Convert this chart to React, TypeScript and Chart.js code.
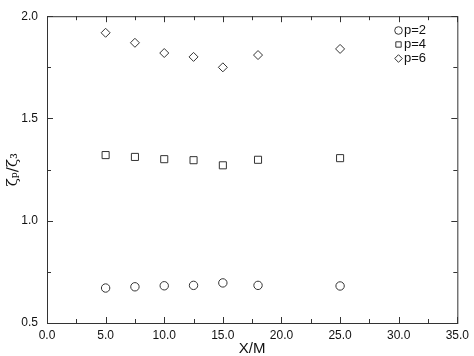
import React, { useEffect, useRef } from "react";
import { Chart, registerables } from "chart.js";

Chart.register(...registerables);

const xValues = [5, 7.5, 10, 12.5, 15, 18, 25];
const p2 = [0.671, 0.677, 0.682, 0.684, 0.696, 0.684, 0.681];
const p4 = [1.321, 1.312, 1.301, 1.296, 1.271, 1.298, 1.306];
const p6 = [1.919, 1.870, 1.820, 1.801, 1.750, 1.810, 1.840];
const seriesLabels = ["p=2", "p=4", "p=6"];
const xTickStep = 5;
const yTickStep = 0.5;

const INK = "#333";

function drawMarker(ctx: CanvasRenderingContext2D, style: string, x: number, y: number, r: number) {
  ctx.beginPath();
  if (style === "circle") {
    ctx.arc(x, y, r, 0, Math.PI * 2);
  } else if (style === "rect") {
    const s = r * Math.SQRT1_2;
    ctx.rect(x - s, y - s, 2 * s, 2 * s);
  } else {
    ctx.moveTo(x, y - r);
    ctx.lineTo(x + r, y);
    ctx.lineTo(x, y + r);
    ctx.lineTo(x - r, y);
    ctx.closePath();
  }
  ctx.stroke();
}

const framePlugin = {
  id: "frame",
  afterDraw(chart: any) {
    const { ctx, chartArea: a, scales } = chart;
    const xs = scales.x;
    const ys = scales.y;
    ctx.save();
    ctx.strokeStyle = INK;
    ctx.lineWidth = 1;
    ctx.strokeRect(a.left + 0.5, a.top + 0.5, a.right - a.left, a.bottom - a.top);
    for (let v = xs.min; v <= xs.max + 1e-9; v += xTickStep / 2) {
      const px = Math.round(xs.getPixelForValue(v)) + 0.5;
      const major = Math.abs(v / xTickStep - Math.round(v / xTickStep)) < 1e-6;
      const len = major ? 6 : 4;
      ctx.beginPath();
      ctx.moveTo(px, a.bottom);
      ctx.lineTo(px, a.bottom - len);
      ctx.moveTo(px, a.top);
      ctx.lineTo(px, a.top + len);
      ctx.stroke();
    }
    for (let v = ys.min; v <= ys.max + 1e-9; v += yTickStep / 2) {
      const py = Math.round(ys.getPixelForValue(v)) + 0.5;
      const major = Math.abs(v / yTickStep - Math.round(v / yTickStep)) < 1e-6;
      const len = major ? 6 : 4;
      ctx.beginPath();
      ctx.moveTo(a.left, py);
      ctx.lineTo(a.left + len, py);
      ctx.moveTo(a.right, py);
      ctx.lineTo(a.right - len, py);
      ctx.stroke();
    }
    const styles = ["circle", "rect", "rectRot"];
    ctx.font = "13px Arial, 'Liberation Sans', sans-serif";
    ctx.fillStyle = "#111";
    ctx.textBaseline = "middle";
    ctx.textAlign = "left";
    chart.data.datasets.forEach((ds: any, i: number) => {
      const y = 30.5 + i * 14;
      ctx.strokeStyle = INK;
      drawMarker(ctx, styles[i], 398.5, y, 3.8);
      ctx.fillText(ds.label, 404, y);
    });
    ctx.restore();
  },
};

export default function App() {
  const ref = useRef<HTMLCanvasElement>(null);
  useEffect(() => {
    document.body.style.margin = "0";
    const toPts = (arr: number[]) => arr.map((y, i) => ({ x: xValues[i], y }));
    const common = {
      showLine: false,
      borderColor: INK,
      backgroundColor: "rgba(0,0,0,0)",
      borderWidth: 1,
    };
    const chart = new Chart(ref.current as HTMLCanvasElement, {
      type: "scatter",
      data: {
        datasets: [
          { ...common, label: seriesLabels[0], data: toPts(p2), pointStyle: "circle", pointRadius: 4.2 },
          { ...common, label: seriesLabels[1], data: toPts(p4), pointStyle: "rect", pointRadius: 5 },
          { ...common, label: seriesLabels[2], data: toPts(p6), pointStyle: "rectRot", pointRadius: 4.5 },
        ],
      },
      options: {
        animation: false,
        responsive: false,
        layout: { padding: { top: 7, right: 12, left: 0, bottom: 0 } },
        plugins: { legend: { display: false }, tooltip: { enabled: false } },
        scales: {
          x: {
            type: "linear",
            min: 0,
            max: 35,
            grid: { display: false, drawTicks: false, tickLength: 0 },
            border: { display: false },
            ticks: {
              stepSize: xTickStep,
              padding: 5,
              color: "#111",
              font: { family: "Arial, 'Liberation Sans', sans-serif", size: 12 },
              callback: (v: any) => Number(v).toFixed(1),
              maxRotation: 0,
              autoSkip: false,
            },
            title: {
              display: true,
              text: "X/M",
              color: "#111",
              font: { family: "Arial, 'Liberation Sans', sans-serif", size: 15, lineHeight: 1 },
              padding: { top: 0, bottom: 0 },
            },
            afterFit: (s: any) => {
              s.height = 33;
            },
          },
          y: {
            type: "linear",
            min: 0.5,
            max: 2.0,
            grid: { display: false, drawTicks: false, tickLength: 0 },
            border: { display: false },
            ticks: {
              stepSize: yTickStep,
              padding: 9,
              color: "#111",
              font: { family: "Arial, 'Liberation Sans', sans-serif", size: 12 },
              callback: (v: any) => Number(v).toFixed(1),
            },
            title: {
              display: true,
              text: "ζₚ/ζ₃",
              color: "#111",
              font: { family: "'DejaVu Serif', serif", size: 15, lineHeight: 1 },
              padding: { top: 6, bottom: 0 },
            },
            afterFit: (s: any) => {
              s.width = 47;
            },
          },
        },
      },
      plugins: [framePlugin],
    });
    return () => chart.destroy();
  }, []);
  return (
    <div style={{ width: 474, height: 356 }}>
      <canvas ref={ref} width={474} height={356} />
    </div>
  );
}
